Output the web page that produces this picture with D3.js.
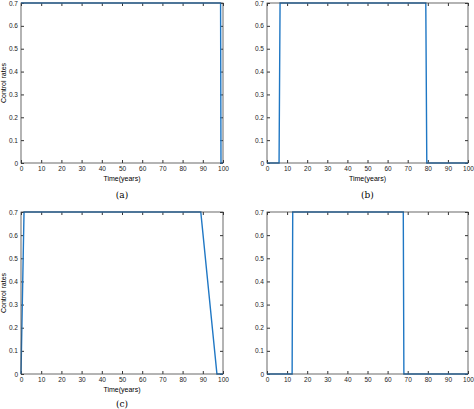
<!DOCTYPE html><html><head><script src="https://cdn.jsdelivr.net/npm/d3@7"></script>
<style>body{margin:0;background:#fff}</style></head><body><svg id="c" width="474" height="409"></svg>
<script>
const xTicks=[0,10,20,30,40,50,60,70,80,90,100];
const yTicks=[0,0.1,0.2,0.3,0.4,0.5,0.6,0.7];
const panelLabels=["(a)","(b)","(c)","(d)"];
const tA=[0,98.8,99,100], uA=[0.7,0.7,0,0];
const tB=[0,6,6.5,79,79.5,100], uB=[0,0,0.7,0.7,0,0];
const tC=[0,1.5,89,97,100], uC=[0,0.7,0.7,0,0];
const tD=[0,12.5,12.8,67.8,68.1,100], uD=[0,0,0.7,0.7,0,0];
const series=[[tA,uA],[tB,uB],[tC,uC],[tD,uD]];
const boxes=[{l:21,r:223,t:3,b:163,yl:true,xl:true,cap:198},
{l:267,r:468,t:3,b:163,yl:false,xl:true,cap:198},
{l:21,r:223,t:212,b:374,yl:true,xl:true,cap:407},
{l:267,r:468,t:212,b:374,yl:false,xl:false,cap:null}];
const svg=d3.select("#c");
boxes.forEach((b,i)=>{
 const x=d3.scaleLinear().domain([0,100]).range([b.l,b.r]);
 const y=d3.scaleLinear().domain([0,0.7]).range([b.b,b.t]);
 const g=svg.append("g");
 g.append("g").attr("transform",`translate(0,${b.b})`).call(d3.axisBottom(x).tickValues(xTicks).tickSize(-3).tickPadding(3)).call(a=>a.select(".domain").remove());
 g.append("g").attr("transform",`translate(0,${b.t})`).call(d3.axisTop(x).tickValues(xTicks).tickSize(-3).tickFormat("")).call(a=>a.select(".domain").remove());
 g.append("g").attr("transform",`translate(${b.l},0)`).call(d3.axisLeft(y).tickValues(yTicks).tickSize(-3).tickPadding(3).tickFormat(d=>d===0?"0":d3.format(".1f")(d))).call(a=>a.select(".domain").remove());
 g.append("g").attr("transform",`translate(${b.r},0)`).call(d3.axisRight(y).tickValues(yTicks).tickSize(-3).tickFormat("")).call(a=>a.select(".domain").remove());
 g.selectAll(".tick line").attr("stroke","#333");
 g.selectAll(".tick text").attr("fill","#222").style("font-family","Liberation Sans, Arial").style("font-size","6.5px");
 g.selectAll("g").attr("font-size",null);
 const [t,u]=series[i];
 g.append("path").datum(t.map((v,k)=>[v,u[k]])).attr("fill","none").attr("stroke","#1f77c4").attr("stroke-width",1.4)
  .attr("d",d3.line().x(d=>x(d[0])).y(d=>y(d[1])));
 g.append("rect").attr("x",b.l).attr("y",b.t).attr("width",b.r-b.l).attr("height",b.b-b.t).attr("fill","none").attr("stroke","#444").attr("stroke-width",0.8);
 const lab={"font-family":"Liberation Sans, Arial","font-size":"7px"};
 if(b.xl) g.append("text").attr("x",(b.l+b.r)/2).attr("y",b.b+18).attr("text-anchor","middle").style("font-family",lab["font-family"]).style("font-size",lab["font-size"]).text("Time(years)");
 if(b.yl) g.append("text").attr("transform",`translate(6,${(b.t+b.b)/2}) rotate(-90)`).attr("text-anchor","middle").style("font-family",lab["font-family"]).style("font-size",lab["font-size"]).text("Control rates");
 if(b.cap) svg.append("text").attr("x",(b.l+b.r)/2).attr("y",b.cap).attr("text-anchor","middle").attr("font-family","DejaVu Serif, serif").attr("font-size",9).text(panelLabels[i]);
});
</script></body></html>
